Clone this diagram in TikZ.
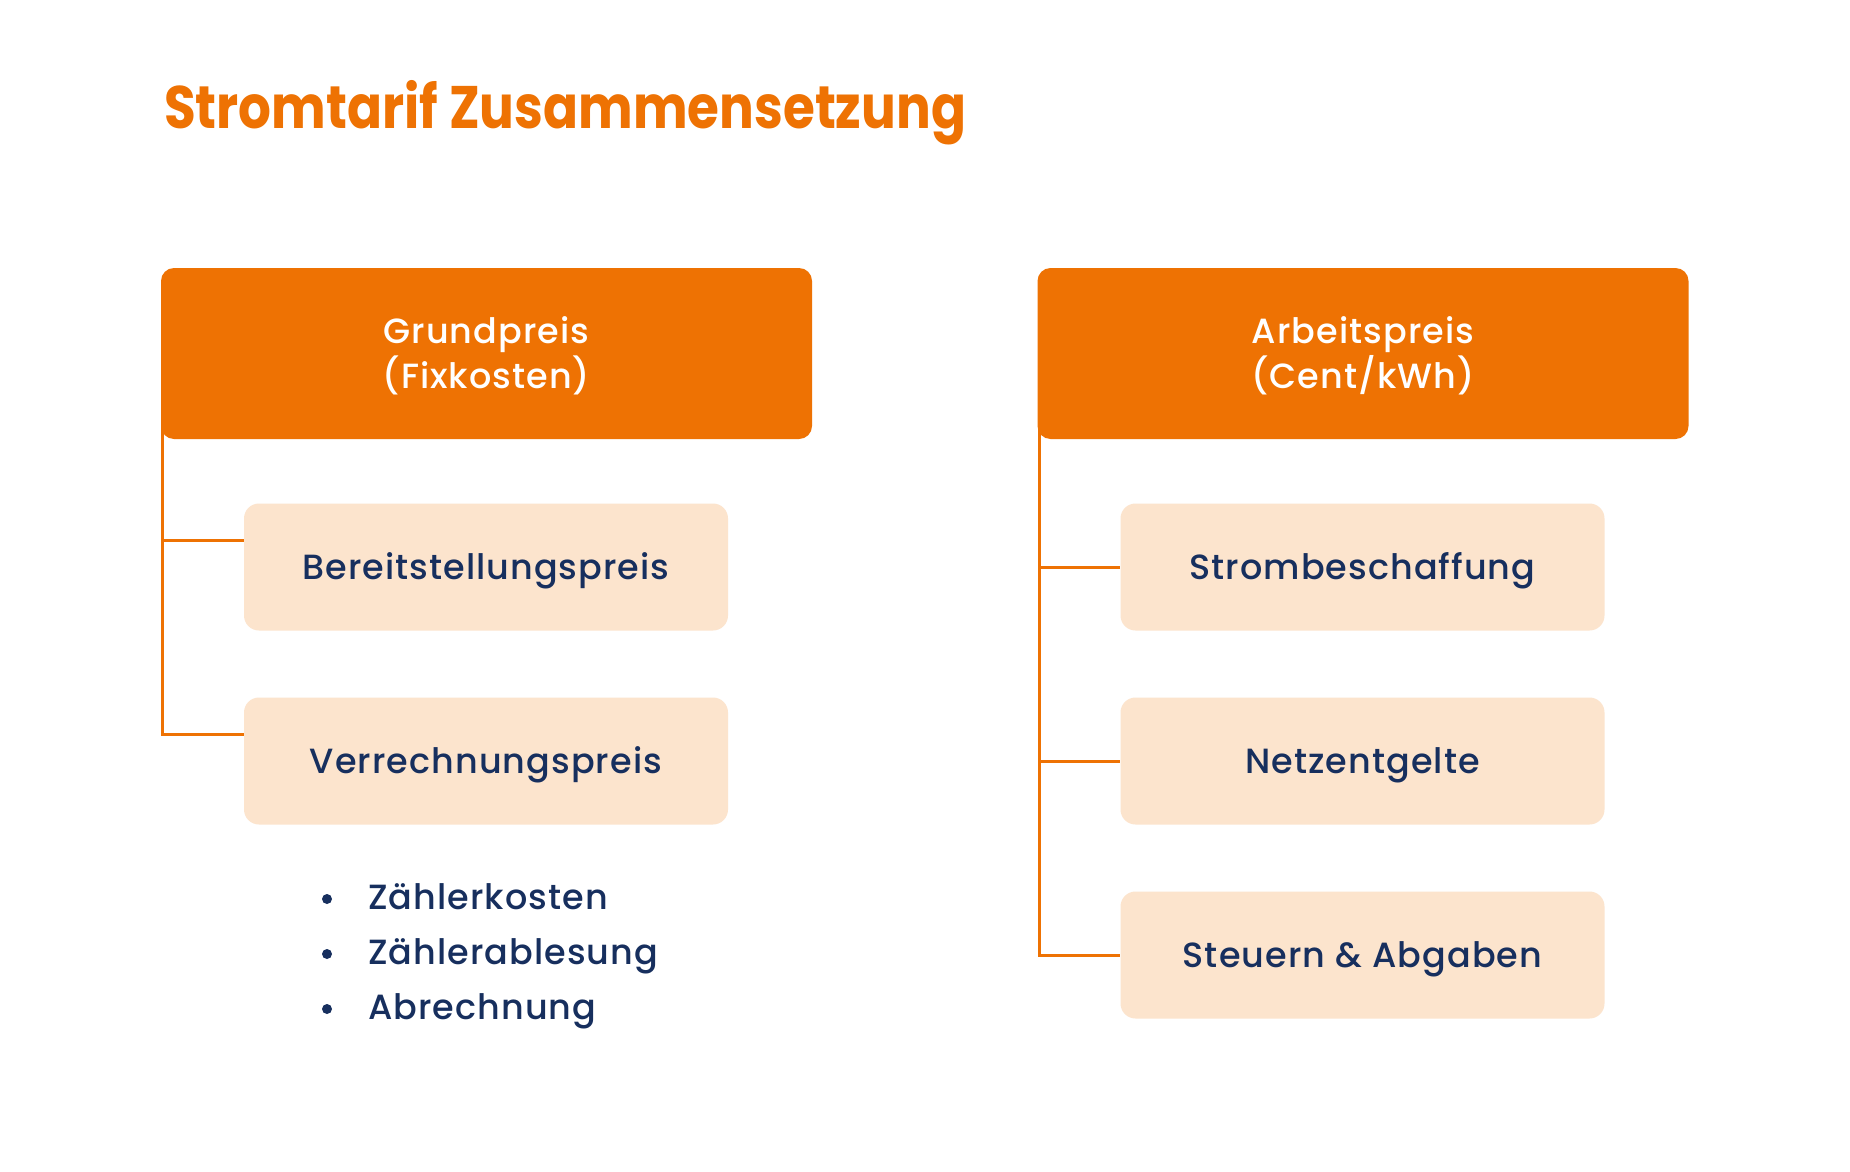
\documentclass[tikz,border=0pt]{standalone}
\usepackage{fontspec}
\setmainfont{Poppins}
\newfontfamily\titlefont{Poppins}[FakeStretch=0.86]
\newfontfamily\medfont{Poppins Medium}[LetterSpace=3]
\usetikzlibrary{calc}
\definecolor{orng}{HTML}{EE7203}
\definecolor{peach}{HTML}{FCE4CD}
\definecolor{navy}{HTML}{172F5E}
\pgfdeclarelayer{bottom}
\pgfdeclarelayer{background}
\pgfsetlayers{bottom,background,main}
\tikzset{
  headbox/.style={rectangle, rounded corners=13pt, fill=orng, text=white,
    minimum width=651pt, minimum height=171pt, align=center, inner sep=0pt,
    text depth=1pt, font=\medfont\fontsize{35}{45}\selectfont},
  subbox/.style={rectangle, rounded corners=15pt, fill=peach, text=navy,
    minimum width=484pt, minimum height=127pt, inner sep=0pt,
    text height=26pt, text depth=2pt,
    font=\medfont\fontsize{35}{45}\selectfont},
  conn/.style={draw=orng, line width=3pt},
  bullettext/.style={anchor=base west, text=navy, inner sep=0pt,
    font=\medfont\fontsize{35}{45}\selectfont},
  bulletdot/.style={circle, fill=navy, inner sep=0pt, minimum size=10pt}
}
\begin{document}
\begin{tikzpicture}[x=1pt,y=-1pt]
\begin{pgfonlayer}{bottom}
\fill[white] (0,0) rectangle (1850,1172);
\end{pgfonlayer}
\useasboundingbox (0,0) rectangle (1850,1172);
% title
\node[anchor=base west, inner sep=0pt, text=orng,
  font=\titlefont\bfseries\fontsize{60}{70}\selectfont] (title) at (164,128) {Stromtarif Zusammensetzung};
% headers
\node[headbox] (hl) at (486.5,353.5) {Grundpreis\\(Fixkosten)};
\node[headbox] (hr) at (1363,353.5) {Arbeitspreis\\(Cent/kWh)};
% left subs
\node[subbox] (b1) at (486,567) {Bereitstellungspreis};
\node[subbox] (b2) at (486,761) {Verrechnungspreis};
% right subs
\node[subbox] (s1) at (1362.5,567) {Strombeschaffung};
\node[subbox] (s2) at (1362.5,761) {Netzentgelte};
\node[subbox] (s3) at (1362.5,955) {Steuern \& Abgaben};
% bullets
\node[bulletdot] (d1) at (327,899) {};
\node[bulletdot] (d2) at (327,954) {};
\node[bulletdot] (d3) at (327,1009) {};
\node[bullettext] (t1) at (368,909) {Zählerkosten};
\node[bullettext] (t2) at (368,964) {Zählerablesung};
\node[bullettext] (t3) at (368,1019) {Abrechnung};
% connectors
\coordinate (lt) at ([xshift=2pt,yshift=14pt]hl.south west);
\coordinate (rt) at ([xshift=2pt,yshift=14pt]hr.south west);
\coordinate (lb1) at ([yshift=27pt]b1.west);
\coordinate (lb2) at ([yshift=27pt]b2.west);
\begin{pgfonlayer}{background}
\draw[conn] (lt) |- (lb2);
\draw[conn] (lb1 -| lt) -- (lb1);
\draw[conn] (rt) |- (s3.west);
\draw[conn] (s1.west -| rt) -- (s1.west);
\draw[conn] (s2.west -| rt) -- (s2.west);
\end{pgfonlayer}
\end{tikzpicture}
\end{document}
